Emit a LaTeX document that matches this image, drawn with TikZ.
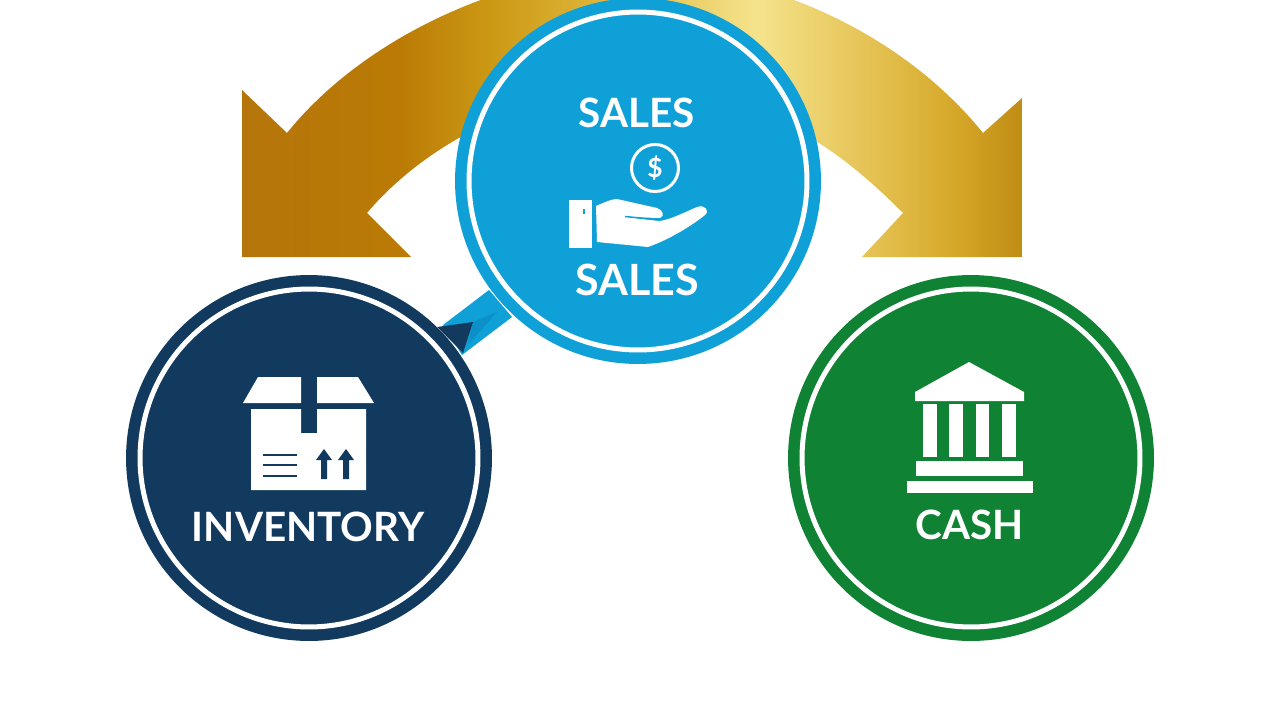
\documentclass[tikz,border=0pt]{standalone}
\usepackage{fontspec}
\setmainfont{Lato}
\usepackage{xcolor}
\usetikzlibrary{calc,positioning}
\definecolor{navy}{HTML}{123A5E}
\definecolor{skyb}{HTML}{0FA0D8}
\definecolor{skyd}{HTML}{0C90C8}
\definecolor{leaf}{HTML}{0F8234}
\pgfdeclarehorizontalshading{goldarc}{100bp}{
  rgb(0bp)=(.71,.46,.04);
  rgb(25bp)=(.71,.46,.04);
  rgb(35bp)=(.73,.48,.02);
  rgb(41bp)=(.80,.60,.08);
  rgb(49bp)=(.88,.73,.25);
  rgb(58bp)=(.96,.89,.55);
  rgb(67bp)=(.88,.73,.27);
  rgb(71bp)=(.83,.65,.15);
  rgb(75bp)=(.75,.55,.08);
  rgb(100bp)=(.75,.55,.08)}
\tikzstyle{disc}=[circle,inner sep=0pt,outer sep=0pt,minimum size=7.32cm]
\tikzstyle{ring}=[circle,draw=white,line width=.1cm,inner sep=0pt,outer sep=0pt,minimum size=6.76cm]
\tikzstyle{lbl}=[text=white,font=\fontsize{23}{26}\selectfont\bfseries,inner sep=0pt]
\begin{document}
\begin{tikzpicture}[x=.02cm,y=-.02cm]
\useasboundingbox (0,0) rectangle (1280,720);
\begin{scope}
\clip (0,0) rectangle (1280,720);
\path [shading=goldarc]
   (242,90) -- (287,133)
   .. controls (370,30) and (520,-30) .. (636,-30)
   .. controls (760,-30) and (900,30) .. (983,133)
   -- (1022,98) -- (1022,257) -- (862,257) -- (903,213)
   .. controls (850,160) and (770,90) .. (636,90)
   .. controls (520,90) and (420,150) .. (367,213)
   -- (411,257) -- (242,257) -- cycle;
\end{scope}
\fill [skyb] (489,290) -- (443,325) -- (462,355) -- (512,317) -- cycle;
\fill [skyd] (473,322) -- (497,312) -- (468,345) -- cycle;
\node [disc,fill=skyb] (sal) at (638,181) {};
\node [ring] (salr) at (sal) {};
\node [lbl] (salt) at (637,113) {SALES};
\node [lbl,font=\fontsize{24.5}{26}\selectfont\bfseries] (salb) at (637,280) {SALES};
\node [circle,draw=white,line width=.06cm,inner sep=0pt,outer sep=0pt,minimum size=.94cm] (coin) at (655,168) {};
\node [text=white,font=\fontsize{15}{16}\selectfont\bfseries,inner sep=0pt] (dollar) at (coin) {\$};
\fill [white] (569,200) rectangle (592,248);
\fill [skyb] (583,209) rectangle (585,214);
\fill [white] (596,206) .. controls (605,202) and (612,199) .. (617,199)
   -- (657,208) .. controls (663,210) and (665,216) .. (660,218)
   -- (625,217) -- (660,221) .. controls (672,219) and (685,212) .. (697,207)
   .. controls (705,204) and (710,211) .. (705,215)
   .. controls (690,227) and (668,240) .. (648,247)
   -- (597,242) -- cycle;
\draw [skyb,line width=.03cm] (625,216.5) -- (660,220);
\fill [navy] (437,327) -- (473,322) -- (463,353) -- cycle;
\node [disc,fill=navy] (inv) at (309,458) {};
\node [ring] (invr) at (inv) {};
\fill [white] (258,377) -- (301,377) -- (301,403) -- (243,403) -- cycle;
\fill [white] (317,377) -- (358,377) -- (374,403) -- (317,403) -- cycle;
\fill [white] (251,409) -- (301,409) -- (301,433) -- (317,433) -- (317,409) -- (366,409) -- (366,490) -- (251,490) -- cycle;
\draw [navy,line width=.05cm] (263,455) -- (297,455);
\draw [navy,line width=.05cm] (263,465) -- (297,465);
\draw [navy,line width=.05cm] (263,476) -- (297,476);
\fill [navy] (324,449) -- (332,460) -- (327,460) -- (327,479) -- (321,479) -- (321,460) -- (316,460) -- cycle;
\fill [navy] (346,449) -- (354,460) -- (349,460) -- (349,479) -- (343,479) -- (343,460) -- (338,460) -- cycle;
\node [lbl] (invt) at (308,527) {INVENTORY};
\node [disc,fill=leaf] (cash) at (971,458) {};
\node [ring] (cashr) at (cash) {};
\fill [white] (969,362) -- (1024,392) -- (1024,401) -- (915,401) -- (915,392) -- cycle;
\fill [white] (923,404) rectangle (937,457);
\fill [white] (949,404) rectangle (963,457);
\fill [white] (976,404) rectangle (989,457);
\fill [white] (1002,404) rectangle (1016,457);
\fill [white] (916,461) rectangle (1023,476);
\fill [white] (907,481) rectangle (1033,493);
\node [lbl] (casht) at (970,525) {CASH};
\end{tikzpicture}
\end{document}
